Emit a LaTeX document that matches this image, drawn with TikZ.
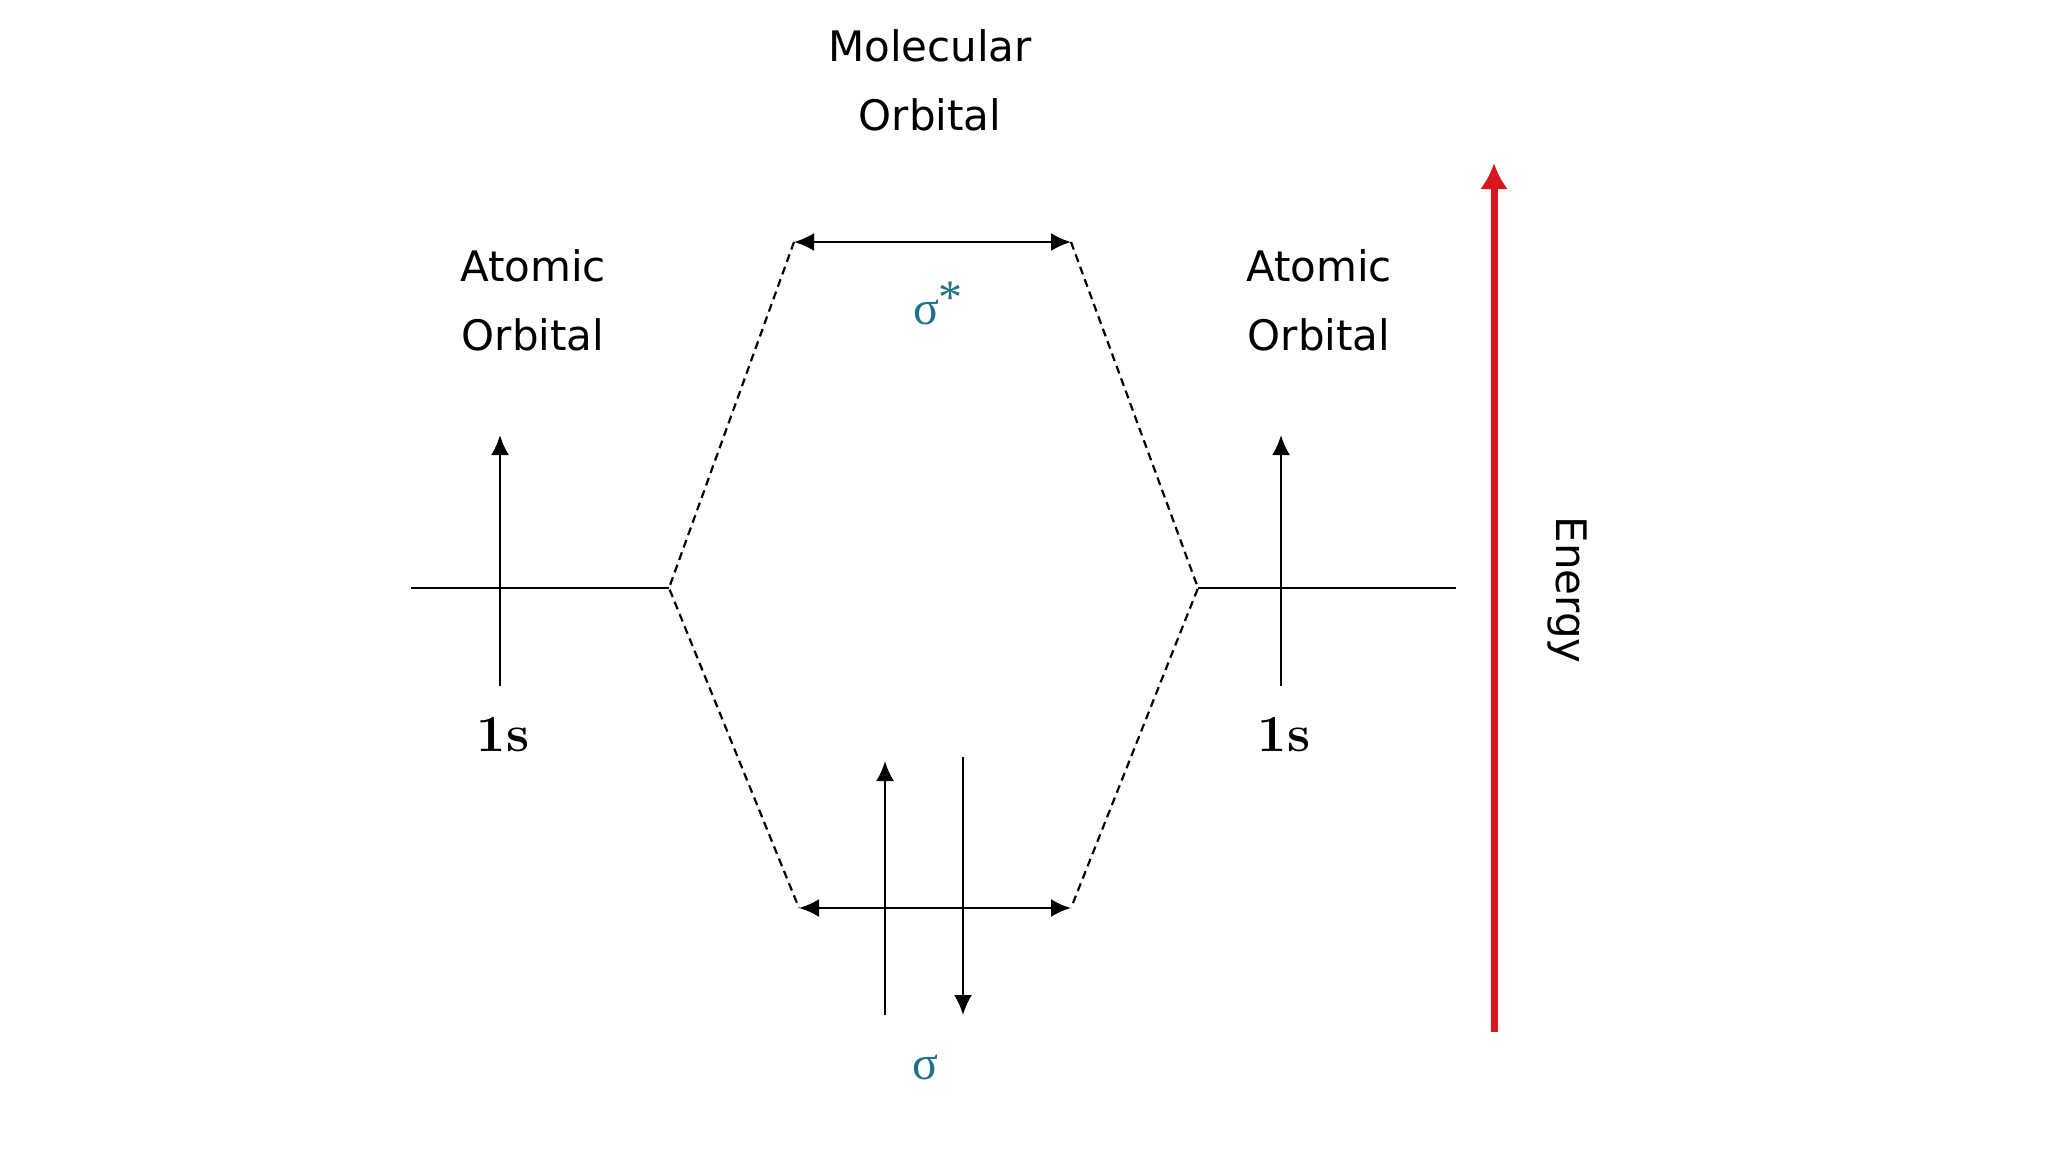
\documentclass[tikz,border=0pt]{standalone}
\usepackage{fontspec}
\newfontfamily\lblfont{DejaVu Sans}
\newfontfamily\sigfont{Liberation Serif}
\usetikzlibrary{arrows,arrows.meta,positioning}
\definecolor{sigcol}{RGB}{30,115,135}
\definecolor{enred}{RGB}{215,25,30}

\begin{document}
\begin{tikzpicture}[x=0.5pt,y=-0.5pt,>={Latex[length=10pt,width=9pt]}]
        \tikzset{lbl/.style={align=center,font=\lblfont\fontsize{21}{34.5}\selectfont},
        orb/.style={font=\fontsize{26}{30}\selectfont\bfseries},
        sig/.style={text=sigcol,font=\sigfont\fontsize{24}{28}\selectfont},
        lvl/.style={draw,line width=1.25pt},
        dlink/.style={draw,line width=1.1pt,dash pattern=on 4pt off 2.6pt},
        spin/.style={draw,line width=1.25pt,->},
        }
        \useasboundingbox (0,0) rectangle (2048,1152);
%%% levels
        \coordinate (aL1) at (411,588);  \coordinate (aL2) at (669,588);
        \coordinate (aR1) at (1198,588); \coordinate (aR2) at (1456,588);
        \coordinate (st1) at (794,242);  \coordinate (st2) at (1071,242);
        \coordinate (sg1) at (799,908);  \coordinate (sg2) at (1071,908);
%%% spins
        \coordinate (spLb) at (500,686);  \coordinate (spLt) at (500,435);
        \coordinate (spRb) at (1281,686); \coordinate (spRt) at (1281,435);
        \coordinate (upb) at (885,1015);  \coordinate (upt) at (885,761);
        \coordinate (dnt) at (963,757);   \coordinate (dnb) at (963,1015);
        \coordinate (enb) at (1494,1032); \coordinate (ent) at (1494,163);
%%% labels
        \node [lbl] (atomL) at (533,300) {Atomic\\Orbital};
        \node [lbl] (atomR) at (1319,300) {Atomic\\Orbital};
        \node [lbl] (mol) at (930,80) {Molecular\\Orbital};
        \node [orb] (sL) at (503,735) {1s};
        \node [orb] (sR) at (1284,735) {1s};
        \node [sig] (sstar) at (938,304) {σ\raisebox{0.5ex}{*}};
        \node [sig] (sbond) at (925,1067) {σ};
        \node [lbl, rotate=-90] (energy) at (1567,590) {Energy};
%%% paths
        \path[lvl] (aL1) -- (aL2)
                   (aR1) -- (aR2);
        \path[lvl,<->] (st1) -- (st2);
        \path[lvl,<->] (sg1) -- (sg2);
        \path[dlink] (st1) -- (aL2) -- (sg1)
                     (st2) -- (aR1) -- (sg2);
        \path[spin] (spLb) -- (spLt);
        \path[spin] (spRb) -- (spRt);
        \path[spin] (upb) -- (upt);
        \path[spin] (dnt) -- (dnb);
        \path[draw,enred,line width=3.5pt,-{Latex[length=13pt,width=14pt]}] (enb) -- (ent);
\end{tikzpicture}
\end{document}
